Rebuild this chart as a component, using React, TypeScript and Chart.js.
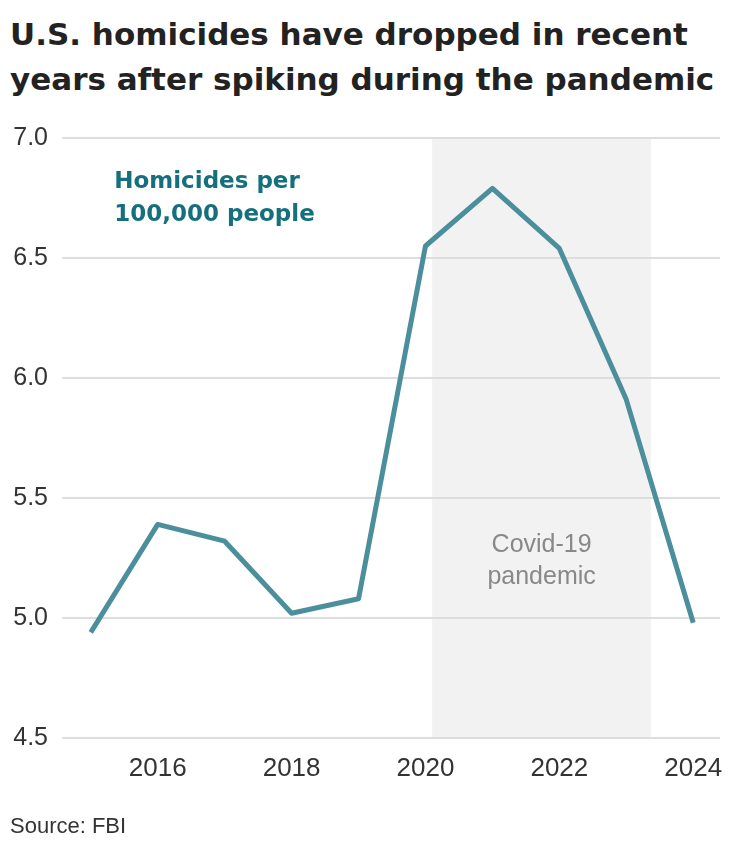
import React, { useEffect, useRef } from "react";
import { Chart, registerables } from "chart.js";

Chart.register(...registerables);

const years = [2015, 2016, 2017, 2018, 2019, 2020, 2021, 2022, 2023, 2024];
const homicideRate = [4.94, 5.39, 5.32, 5.02, 5.08, 6.55, 6.79, 6.54, 5.91, 4.98];
const xTickYears = [2016, 2018, 2020, 2022, 2024];
const yTicks = [4.5, 5.0, 5.5, 6.0, 6.5, 7.0];
const pandemicRange = [2020.1, 2023.37];
const pandemicLabel = ["Covid-19", "pandemic"];
const seriesLabel = ["Homicides per", "100,000 people"];
const titleLines = ["U.S. homicides have dropped in recent", "years after spiking during the pandemic"];
const sourceText = "Source: FBI";

const BOLD = '"DejaVu Sans", sans-serif';
const REG = '"Liberation Sans", Arial, sans-serif';

export default function App() {
  const ref = useRef<HTMLCanvasElement | null>(null);

  useEffect(() => {
    document.body.style.margin = "0";
    const canvas = ref.current;
    if (!canvas) return;

    const annotations = {
      id: "annotations",
      beforeDraw(chart: any) {
        const { ctx, scales, chartArea } = chart;
        const x = scales.x;
        const x0 = x.getPixelForValue(pandemicRange[0]);
        const x1 = x.getPixelForValue(pandemicRange[1]);
        ctx.save();
        ctx.fillStyle = "#f2f2f2";
        ctx.fillRect(x0, chartArea.top, x1 - x0, chartArea.bottom - chartArea.top);
        ctx.restore();
      },
      afterDatasetsDraw(chart: any) {
        const { ctx, scales } = chart;
        const x = scales.x;
        const y = scales.y;
        const cx = (x.getPixelForValue(pandemicRange[0]) + x.getPixelForValue(pandemicRange[1])) / 2;
        ctx.save();
        ctx.fillStyle = "#888888";
        ctx.font = `25px ${REG}`;
        ctx.textAlign = "center";
        ctx.textBaseline = "alphabetic";
        const yb = y.getPixelForValue(5.25);
        ctx.fillText(pandemicLabel[0], cx, yb - 6);
        ctx.fillText(pandemicLabel[1], cx, yb + 26);

        ctx.fillStyle = "#156f7d";
        ctx.font = `bold 23px ${BOLD}`;
        ctx.textAlign = "left";
        const lx = x.getPixelForValue(2015.35);
        const ly = y.getPixelForValue(6.79);
        ctx.fillText(seriesLabel[0], lx, ly);
        ctx.fillText(seriesLabel[1], lx, ly + 33);
        ctx.restore();
      },
    };

    const chart = new Chart(canvas, {
      type: "line",
      data: {
        datasets: [
          {
            data: years.map((yr, i) => ({ x: yr, y: homicideRate[i] })),
            borderColor: "#4b8f9c",
            borderWidth: 5,
            pointRadius: 0,
            tension: 0,
            borderJoinStyle: "round",
            borderCapStyle: "butt",
          },
        ],
      },
      options: {
        animation: false,
        responsive: false,
        maintainAspectRatio: false,
        layout: { padding: { top: 138, left: 0, right: 16, bottom: 74 } },
        plugins: { legend: { display: false }, tooltip: { enabled: false } },
        scales: {
          x: {
            type: "linear",
            min: 2014.57,
            max: 2024.4,
            afterBuildTicks(axis: any) {
              axis.ticks = xTickYears.map((v) => ({ value: v }));
            },
            afterFit(axis: any) {
              axis.height = 50;
              axis.paddingLeft = 0;
              axis.paddingRight = 0;
            },
            grid: { display: false, drawTicks: false },
            border: { display: false },
            ticks: {
              color: "#333333",
              font: { family: REG, size: 26 },
              padding: 15,
              maxRotation: 0,
              autoSkip: false,
              callback: (v: any) => String(v),
            },
          },
          y: {
            type: "linear",
            min: 4.5,
            max: 7.0,
            afterBuildTicks(axis: any) {
              axis.ticks = yTicks.map((v) => ({ value: v }));
            },
            afterFit(axis: any) {
              axis.width = 62;
            },
            grid: { color: "#dddddd", lineWidth: 2, drawTicks: false },
            border: { display: false },
            ticks: {
              color: "#333333",
              font: { family: REG, size: 25 },
              padding: 14,
              callback: (v: any) => Number(v).toFixed(1),
            },
          },
        },
      },
      plugins: [annotations],
    });

    return () => chart.destroy();
  }, []);

  return (
    <div style={{ position: "relative", width: 736, height: 862, background: "#fff", overflow: "hidden" }}>
      <div
        style={{
          position: "absolute",
          left: 10,
          top: 12,
          fontFamily: BOLD,
          fontWeight: "bold",
          fontSize: 31,
          lineHeight: "45px",
          color: "#222222",
          whiteSpace: "nowrap",
        }}
      >
        {titleLines[0]}
        <br />
        {titleLines[1]}
      </div>
      <canvas ref={ref} width={736} height={862} style={{ position: "absolute", left: 0, top: 0, width: 736, height: 862 }} />
      <div
        style={{
          position: "absolute",
          left: 10,
          top: 814,
          fontFamily: REG,
          fontSize: 22,
          lineHeight: "24px",
          color: "#333333",
        }}
      >
        {sourceText}
      </div>
    </div>
  );
}
